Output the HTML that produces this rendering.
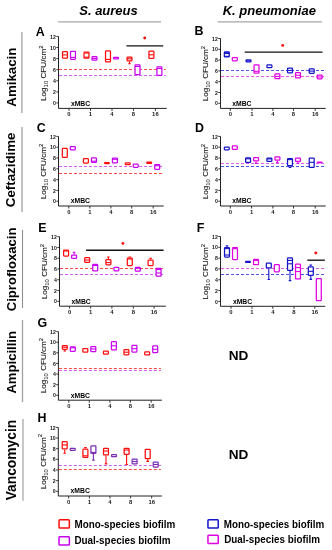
<!DOCTYPE html><html><head><meta charset="utf-8"><style>html,body{margin:0;padding:0;background:#fff;}svg{display:block;filter:blur(0.3px);}</style></head><body>
<svg width="332" height="550" viewBox="0 0 332 550" font-family='"Liberation Sans", sans-serif'>
<rect width="332" height="550" fill="#fff"/>
<text x="108.5" y="14.5" font-size="13" font-weight="bold" font-style="italic" text-anchor="middle" fill="#000">S. aureus</text>
<text x="269.3" y="14.6" font-size="13" font-weight="bold" font-style="italic" text-anchor="middle" fill="#000">K. pneumoniae</text>
<path d="M58 21.9H161M217.6 21.9H322" stroke="#a6a6a6" stroke-width="1.4"/>
<text transform="translate(15.5,77.15) rotate(-90)" font-size="13.3" font-weight="bold" text-anchor="middle" fill="#000">Amikacin</text>
<path d="M21.9 32V113" stroke="#a8a8a8" stroke-width="1.4"/>
<text transform="translate(15.1,169.9) rotate(-90)" font-size="13.3" font-weight="bold" text-anchor="middle" fill="#000">Ceftazidime</text>
<path d="M22.0 127V212" stroke="#a8a8a8" stroke-width="1.4"/>
<text transform="translate(16.3,269.4) rotate(-90)" font-size="13.1" font-weight="bold" text-anchor="middle" fill="#000">Ciprofloxacin</text>
<path d="M22.5 230V308" stroke="#8e8e8e" stroke-width="1.1"/>
<text transform="translate(16.3,362.3) rotate(-90)" font-size="13.1" font-weight="bold" text-anchor="middle" fill="#000">Ampicillin</text>
<path d="M22.5 320V402" stroke="#a0a0a0" stroke-width="1.3"/>
<text transform="translate(16.4,460.1) rotate(-90)" font-size="13.8" font-weight="bold" text-anchor="middle" fill="#000">Vancomycin</text>
<path d="M23.0 419V500.7" stroke="#b4b4b4" stroke-width="1.5"/>
<text x="35.7" y="35.9" font-size="12.4" font-weight="bold" fill="#000">A</text>
<path d="M58.5 36.4V108.4H166.7" fill="none" stroke="#222" stroke-width="1"/>
<text x="55.9" y="105.05" font-size="5.2" font-weight="bold" text-anchor="end" fill="#151515">0</text>
<text x="55.9" y="93.96" font-size="5.2" font-weight="bold" text-anchor="end" fill="#151515">2</text>
<text x="55.9" y="82.87" font-size="5.2" font-weight="bold" text-anchor="end" fill="#151515">4</text>
<text x="55.9" y="71.77" font-size="5.2" font-weight="bold" text-anchor="end" fill="#151515">6</text>
<text x="55.9" y="60.68" font-size="5.2" font-weight="bold" text-anchor="end" fill="#151515">8</text>
<text x="55.9" y="49.59" font-size="5.2" font-weight="bold" text-anchor="end" fill="#151515">10</text>
<text x="55.9" y="38.5" font-size="5.2" font-weight="bold" text-anchor="end" fill="#151515">12</text>
<path d="M56.3 102.95H58.5M56.3 91.86H58.5M56.3 80.77H58.5M56.3 69.67H58.5M56.3 58.58H58.5M56.3 47.49H58.5M56.3 36.4H58.5M69 108.4V110.9M90.5 108.4V110.9M112 108.4V110.9M133.5 108.4V110.9M155.4 108.4V110.9" stroke="#222" stroke-width="0.9"/>
<text x="69" y="116" font-size="5.9" font-weight="bold" text-anchor="middle" fill="#222">0</text>
<text x="90.5" y="116" font-size="5.9" font-weight="bold" text-anchor="middle" fill="#222">1</text>
<text x="112" y="116" font-size="5.9" font-weight="bold" text-anchor="middle" fill="#222">4</text>
<text x="133.5" y="116" font-size="5.9" font-weight="bold" text-anchor="middle" fill="#222">8</text>
<text x="155.4" y="116" font-size="5.9" font-weight="bold" text-anchor="middle" fill="#222">16</text>
<text x="70.9" y="105.8" font-size="6.8" font-weight="bold" fill="#000">xMBC</text>
<text transform="translate(46.3,100.95) rotate(-90)" font-size="8.1" fill="#1a1a1a" stroke="#1a1a1a" stroke-width="0.12">Log<tspan font-size="6" dy="1.5" stroke-width="0">10</tspan><tspan dy="-1.5"> CFU/cm</tspan><tspan font-size="5.8" dy="-3.7">2</tspan></text>
<path d="M59 69.5H165.7" stroke="#ff4040" stroke-width="0.95" stroke-dasharray="3 2"/>
<path d="M59 75.5H165.7" stroke="#c840f0" stroke-width="0.85" stroke-dasharray="3 2"/>
<rect x="62.52" y="51.73" width="4.95" height="6.35" rx="0.7" fill="#fff" stroke="#ff0d0d" stroke-width="1.25"/>
<path d="M62.52 54.9H67.47" stroke="#ff0d0d" stroke-width="1.1"/>
<rect x="70.53" y="51.33" width="4.95" height="7.95" rx="0.7" fill="#fff" stroke="#c800f0" stroke-width="1.25"/>
<path d="M70.53 57.4H75.48" stroke="#c800f0" stroke-width="1.1"/>
<rect x="84.03" y="52.23" width="4.95" height="5.85" rx="0.7" fill="#fff" stroke="#ff0d0d" stroke-width="1.25"/>
<path d="M84.03 53H88.98" stroke="#ff0d0d" stroke-width="1.1"/>
<path d="M84.03 57.2H88.98" stroke="#ff0d0d" stroke-width="1.1"/>
<rect x="92.03" y="56.73" width="4.95" height="3.45" rx="0.7" fill="#fff" stroke="#c800f0" stroke-width="1.25"/>
<path d="M92.03 58.4H96.98" stroke="#c800f0" stroke-width="1.1"/>
<rect x="105.53" y="50.92" width="4.95" height="10.95" rx="0.7" fill="#fff" stroke="#ff0d0d" stroke-width="1.25"/>
<path d="M105.53 59.4H110.48" stroke="#ff0d0d" stroke-width="1.1"/>
<rect x="113.53" y="57.42" width="4.95" height="1.45" rx="0.7" fill="#fff" stroke="#c800f0" stroke-width="1.25"/>
<path d="M129.5 61.6V63.7M128.2 63.7H130.8" stroke="#ff0d0d" stroke-width="1.1"/>
<rect x="127.03" y="57.02" width="4.95" height="3.95" rx="0.7" fill="#fff" stroke="#ff0d0d" stroke-width="1.25"/>
<path d="M127.03 58.8H131.97" stroke="#ff0d0d" stroke-width="1.1"/>
<rect x="135.03" y="64.83" width="4.95" height="9.85" rx="0.7" fill="#fff" stroke="#c800f0" stroke-width="1.25"/>
<path d="M135.03 66.5H139.97" stroke="#c800f0" stroke-width="1.1"/>
<rect x="148.93" y="51.12" width="4.95" height="7.35" rx="0.7" fill="#fff" stroke="#ff0d0d" stroke-width="1.25"/>
<path d="M148.93 54.8H153.88" stroke="#ff0d0d" stroke-width="1.1"/>
<rect x="156.93" y="66.92" width="4.95" height="8.45" rx="0.7" fill="#fff" stroke="#c800f0" stroke-width="1.25"/>
<path d="M156.93 68.5H161.88" stroke="#c800f0" stroke-width="1.1"/>
<path d="M126.4 45.8H163.2" stroke="#111" stroke-width="1.35"/>
<circle cx="144.7" cy="38" r="1.45" fill="#ff1010"/>
<text x="194.5" y="35.1" font-size="12.4" font-weight="bold" fill="#000">B</text>
<path d="M220.5 38.5V108.4H325.7" fill="none" stroke="#222" stroke-width="1"/>
<text x="217.9" y="105.4" font-size="5.2" font-weight="bold" text-anchor="end" fill="#151515">0</text>
<text x="217.9" y="94.6" font-size="5.2" font-weight="bold" text-anchor="end" fill="#151515">2</text>
<text x="217.9" y="83.8" font-size="5.2" font-weight="bold" text-anchor="end" fill="#151515">4</text>
<text x="217.9" y="73" font-size="5.2" font-weight="bold" text-anchor="end" fill="#151515">6</text>
<text x="217.9" y="62.2" font-size="5.2" font-weight="bold" text-anchor="end" fill="#151515">8</text>
<text x="217.9" y="51.4" font-size="5.2" font-weight="bold" text-anchor="end" fill="#151515">10</text>
<text x="217.9" y="40.6" font-size="5.2" font-weight="bold" text-anchor="end" fill="#151515">12</text>
<path d="M218.3 103.3H220.5M218.3 92.5H220.5M218.3 81.7H220.5M218.3 70.9H220.5M218.3 60.1H220.5M218.3 49.3H220.5M218.3 38.5H220.5M230.3 108.4V110.9M252 108.4V110.9M272.9 108.4V110.9M293.5 108.4V110.9M315.2 108.4V110.9" stroke="#222" stroke-width="0.9"/>
<text x="230.3" y="116" font-size="5.9" font-weight="bold" text-anchor="middle" fill="#222">0</text>
<text x="252" y="116" font-size="5.9" font-weight="bold" text-anchor="middle" fill="#222">1</text>
<text x="272.9" y="116" font-size="5.9" font-weight="bold" text-anchor="middle" fill="#222">4</text>
<text x="293.5" y="116" font-size="5.9" font-weight="bold" text-anchor="middle" fill="#222">8</text>
<text x="315.2" y="116" font-size="5.9" font-weight="bold" text-anchor="middle" fill="#222">16</text>
<text x="232.2" y="105.8" font-size="6.8" font-weight="bold" fill="#000">xMBC</text>
<text transform="translate(208.3,101.3) rotate(-90)" font-size="8.1" fill="#1a1a1a" stroke="#1a1a1a" stroke-width="0.12">Log<tspan font-size="6" dy="1.5" stroke-width="0">10</tspan><tspan dy="-1.5"> CFU/cm</tspan><tspan font-size="5.8" dy="-3.7">2</tspan></text>
<path d="M221 70.5H324.7" stroke="#4848e0" stroke-width="0.95" stroke-dasharray="3 2"/>
<path d="M221 76.5H324.7" stroke="#dd40e0" stroke-width="0.85" stroke-dasharray="3 2"/>
<rect x="224.33" y="51.83" width="4.95" height="5.15" rx="0.7" fill="#fff" stroke="#1414c8" stroke-width="1.25"/>
<path d="M224.33 52.7H229.28" stroke="#1414c8" stroke-width="1.1"/>
<path d="M224.33 53.5H229.28" stroke="#1414c8" stroke-width="1.1"/>
<path d="M224.33 56.3H229.28" stroke="#1414c8" stroke-width="1.1"/>
<rect x="232.33" y="57.52" width="4.95" height="3.25" rx="0.7" fill="#fff" stroke="#e000e0" stroke-width="1.25"/>
<rect x="246.03" y="59.83" width="4.95" height="2.15" rx="0.7" fill="#fff" stroke="#1414c8" stroke-width="1.25"/>
<path d="M246.03 60.9H250.97" stroke="#1414c8" stroke-width="1.1"/>
<rect x="254.03" y="64.92" width="4.95" height="8.25" rx="0.7" fill="#fff" stroke="#e000e0" stroke-width="1.25"/>
<path d="M254.03 71.3H258.98" stroke="#e000e0" stroke-width="1.1"/>
<rect x="266.92" y="64.92" width="4.95" height="2.75" rx="0.7" fill="#fff" stroke="#1414c8" stroke-width="1.25"/>
<rect x="274.92" y="73.83" width="4.95" height="4.75" rx="0.7" fill="#fff" stroke="#e000e0" stroke-width="1.25"/>
<path d="M274.92 76.4H279.87" stroke="#e000e0" stroke-width="1.1"/>
<rect x="287.52" y="68.12" width="4.95" height="4.65" rx="0.7" fill="#fff" stroke="#1414c8" stroke-width="1.25"/>
<path d="M287.52 70.4H292.47" stroke="#1414c8" stroke-width="1.1"/>
<rect x="295.52" y="72.62" width="4.95" height="5.35" rx="0.7" fill="#fff" stroke="#e000e0" stroke-width="1.25"/>
<path d="M295.52 75.3H300.47" stroke="#e000e0" stroke-width="1.1"/>
<rect x="309.22" y="68.92" width="4.95" height="4.35" rx="0.7" fill="#fff" stroke="#1414c8" stroke-width="1.25"/>
<path d="M309.22 71.1H314.17" stroke="#1414c8" stroke-width="1.1"/>
<rect x="317.22" y="75.22" width="4.95" height="3.55" rx="0.7" fill="#fff" stroke="#e000e0" stroke-width="1.25"/>
<path d="M317.22 77H322.17" stroke="#e000e0" stroke-width="1.1"/>
<path d="M244.7 52.1H322.5" stroke="#111" stroke-width="1.35"/>
<circle cx="282.7" cy="45.4" r="1.45" fill="#ff1010"/>
<text x="36.7" y="132.3" font-size="12.4" font-weight="bold" fill="#000">C</text>
<path d="M58.5 136.4V206H163.7" fill="none" stroke="#222" stroke-width="1"/>
<text x="55.9" y="203.3" font-size="5.2" font-weight="bold" text-anchor="end" fill="#151515">0</text>
<text x="55.9" y="192.5" font-size="5.2" font-weight="bold" text-anchor="end" fill="#151515">2</text>
<text x="55.9" y="181.7" font-size="5.2" font-weight="bold" text-anchor="end" fill="#151515">4</text>
<text x="55.9" y="170.9" font-size="5.2" font-weight="bold" text-anchor="end" fill="#151515">6</text>
<text x="55.9" y="160.1" font-size="5.2" font-weight="bold" text-anchor="end" fill="#151515">8</text>
<text x="55.9" y="149.3" font-size="5.2" font-weight="bold" text-anchor="end" fill="#151515">10</text>
<text x="55.9" y="138.5" font-size="5.2" font-weight="bold" text-anchor="end" fill="#151515">12</text>
<path d="M56.3 201.2H58.5M56.3 190.4H58.5M56.3 179.6H58.5M56.3 168.8H58.5M56.3 158H58.5M56.3 147.2H58.5M56.3 136.4H58.5M68.8 206V208.5M89.9 206V208.5M110.9 206V208.5M131.7 206V208.5M153.2 206V208.5" stroke="#222" stroke-width="0.9"/>
<text x="68.8" y="213.6" font-size="5.9" font-weight="bold" text-anchor="middle" fill="#222">0</text>
<text x="89.9" y="213.6" font-size="5.9" font-weight="bold" text-anchor="middle" fill="#222">1</text>
<text x="110.9" y="213.6" font-size="5.9" font-weight="bold" text-anchor="middle" fill="#222">4</text>
<text x="131.7" y="213.6" font-size="5.9" font-weight="bold" text-anchor="middle" fill="#222">8</text>
<text x="153.2" y="213.6" font-size="5.9" font-weight="bold" text-anchor="middle" fill="#222">16</text>
<text x="70.7" y="203.4" font-size="6.8" font-weight="bold" fill="#000">xMBC</text>
<text transform="translate(46.3,199.2) rotate(-90)" font-size="8.1" fill="#1a1a1a" stroke="#1a1a1a" stroke-width="0.12">Log<tspan font-size="6" dy="1.5" stroke-width="0">10</tspan><tspan dy="-1.5"> CFU/cm</tspan><tspan font-size="5.8" dy="-3.7">2</tspan></text>
<path d="M59 166.5H162.7" stroke="#c840f0" stroke-width="0.85" stroke-dasharray="3 2"/>
<path d="M59 173.5H162.7" stroke="#ff4040" stroke-width="0.95" stroke-dasharray="3 2"/>
<rect x="62.32" y="148.43" width="4.95" height="9.05" rx="0.7" fill="#fff" stroke="#ff0d0d" stroke-width="1.25"/>
<rect x="70.33" y="146.62" width="4.95" height="3.25" rx="0.7" fill="#fff" stroke="#c800f0" stroke-width="1.25"/>
<rect x="83.43" y="158.62" width="4.95" height="4.45" rx="0.7" fill="#fff" stroke="#ff0d0d" stroke-width="1.25"/>
<rect x="91.43" y="157.93" width="4.95" height="4.45" rx="0.7" fill="#fff" stroke="#c800f0" stroke-width="1.25"/>
<path d="M91.43 161.2H96.38" stroke="#c800f0" stroke-width="1.1"/>
<rect x="104.43" y="162.62" width="4.95" height="0.95" rx="0.7" fill="#fff" stroke="#ff0d0d" stroke-width="1.25"/>
<rect x="112.43" y="158.03" width="4.95" height="4.85" rx="0.7" fill="#fff" stroke="#c800f0" stroke-width="1.25"/>
<path d="M112.43 159.3H117.38" stroke="#c800f0" stroke-width="1.1"/>
<rect x="125.22" y="162.93" width="4.95" height="1.75" rx="0.7" fill="#fff" stroke="#ff0d0d" stroke-width="1.25"/>
<rect x="133.22" y="164.12" width="4.95" height="3.15" rx="0.7" fill="#fff" stroke="#c800f0" stroke-width="1.25"/>
<rect x="146.72" y="162.12" width="4.95" height="1.15" rx="0.7" fill="#fff" stroke="#ff0d0d" stroke-width="1.25"/>
<rect x="154.72" y="164.53" width="4.95" height="4.75" rx="0.7" fill="#fff" stroke="#c800f0" stroke-width="1.25"/>
<path d="M154.72 165.7H159.67" stroke="#c800f0" stroke-width="1.1"/>
<text x="195" y="131.9" font-size="12.4" font-weight="bold" fill="#000">D</text>
<path d="M220.5 136.4V206H325.7" fill="none" stroke="#222" stroke-width="1"/>
<text x="217.9" y="203.35" font-size="5.2" font-weight="bold" text-anchor="end" fill="#151515">0</text>
<text x="217.9" y="192.54" font-size="5.2" font-weight="bold" text-anchor="end" fill="#151515">2</text>
<text x="217.9" y="181.73" font-size="5.2" font-weight="bold" text-anchor="end" fill="#151515">4</text>
<text x="217.9" y="170.92" font-size="5.2" font-weight="bold" text-anchor="end" fill="#151515">6</text>
<text x="217.9" y="160.12" font-size="5.2" font-weight="bold" text-anchor="end" fill="#151515">8</text>
<text x="217.9" y="149.31" font-size="5.2" font-weight="bold" text-anchor="end" fill="#151515">10</text>
<text x="217.9" y="138.5" font-size="5.2" font-weight="bold" text-anchor="end" fill="#151515">12</text>
<path d="M218.3 201.25H220.5M218.3 190.44H220.5M218.3 179.63H220.5M218.3 168.82H220.5M218.3 158.02H220.5M218.3 147.21H220.5M218.3 136.4H220.5M230.3 206V208.5M251.6 206V208.5M272.9 206V208.5M293.5 206V208.5M315.2 206V208.5" stroke="#222" stroke-width="0.9"/>
<text x="230.3" y="213.6" font-size="5.9" font-weight="bold" text-anchor="middle" fill="#222">0</text>
<text x="251.6" y="213.6" font-size="5.9" font-weight="bold" text-anchor="middle" fill="#222">1</text>
<text x="272.9" y="213.6" font-size="5.9" font-weight="bold" text-anchor="middle" fill="#222">4</text>
<text x="293.5" y="213.6" font-size="5.9" font-weight="bold" text-anchor="middle" fill="#222">8</text>
<text x="315.2" y="213.6" font-size="5.9" font-weight="bold" text-anchor="middle" fill="#222">16</text>
<text x="232.2" y="203.4" font-size="6.8" font-weight="bold" fill="#000">xMBC</text>
<text transform="translate(208.3,199.25) rotate(-90)" font-size="8.1" fill="#1a1a1a" stroke="#1a1a1a" stroke-width="0.12">Log<tspan font-size="6" dy="1.5" stroke-width="0">10</tspan><tspan dy="-1.5"> CFU/cm</tspan><tspan font-size="5.8" dy="-3.7">2</tspan></text>
<path d="M221 163.5H324.7" stroke="#dd40e0" stroke-width="0.85" stroke-dasharray="3 2"/>
<path d="M221 166.5H324.7" stroke="#4848e0" stroke-width="0.95" stroke-dasharray="3 2"/>
<rect x="224.33" y="147.22" width="4.95" height="2.55" rx="0.7" fill="#fff" stroke="#1414c8" stroke-width="1.25"/>
<rect x="232.33" y="145.93" width="4.95" height="3.55" rx="0.7" fill="#fff" stroke="#e000e0" stroke-width="1.25"/>
<rect x="245.62" y="157.93" width="4.95" height="4.45" rx="0.7" fill="#fff" stroke="#1414c8" stroke-width="1.25"/>
<path d="M245.62 158.8H250.57" stroke="#1414c8" stroke-width="1.1"/>
<path d="M256.1 161.5V163.4M254.8 163.4H257.4" stroke="#e000e0" stroke-width="1.1"/>
<rect x="253.63" y="157.72" width="4.95" height="3.15" rx="0.7" fill="#fff" stroke="#e000e0" stroke-width="1.25"/>
<rect x="266.92" y="158.12" width="4.95" height="3.25" rx="0.7" fill="#fff" stroke="#1414c8" stroke-width="1.25"/>
<path d="M266.92 158.9H271.87" stroke="#1414c8" stroke-width="1.1"/>
<path d="M277.4 160.8V162.5M276.1 162.5H278.7" stroke="#e000e0" stroke-width="1.1"/>
<rect x="274.92" y="156.82" width="4.95" height="3.35" rx="0.7" fill="#fff" stroke="#e000e0" stroke-width="1.25"/>
<path d="M290 166.2V167.4M288.7 167.4H291.3" stroke="#1414c8" stroke-width="1.1"/>
<rect x="287.52" y="158.72" width="4.95" height="6.85" rx="0.7" fill="#fff" stroke="#1414c8" stroke-width="1.25"/>
<path d="M287.52 159.6H292.47" stroke="#1414c8" stroke-width="1.1"/>
<path d="M298 162V163.2M296.7 163.2H299.3" stroke="#e000e0" stroke-width="1.1"/>
<rect x="295.52" y="158.12" width="4.95" height="3.25" rx="0.7" fill="#fff" stroke="#e000e0" stroke-width="1.25"/>
<rect x="309.22" y="158.12" width="4.95" height="9.35" rx="0.7" fill="#fff" stroke="#1414c8" stroke-width="1.25"/>
<path d="M309.22 162.3H314.17" stroke="#1414c8" stroke-width="1.1"/>
<rect x="317.22" y="162.22" width="4.95" height="0.3" rx="0.7" fill="#fff" stroke="#e000e0" stroke-width="1.25"/>
<text x="38.2" y="231.9" font-size="12.4" font-weight="bold" fill="#000">E</text>
<path d="M59.5 236.7V306.2H165.8" fill="none" stroke="#222" stroke-width="1"/>
<text x="56.9" y="303.4" font-size="5.2" font-weight="bold" text-anchor="end" fill="#151515">0</text>
<text x="56.9" y="292.63" font-size="5.2" font-weight="bold" text-anchor="end" fill="#151515">2</text>
<text x="56.9" y="281.87" font-size="5.2" font-weight="bold" text-anchor="end" fill="#151515">4</text>
<text x="56.9" y="271.1" font-size="5.2" font-weight="bold" text-anchor="end" fill="#151515">6</text>
<text x="56.9" y="260.33" font-size="5.2" font-weight="bold" text-anchor="end" fill="#151515">8</text>
<text x="56.9" y="249.57" font-size="5.2" font-weight="bold" text-anchor="end" fill="#151515">10</text>
<text x="56.9" y="238.8" font-size="5.2" font-weight="bold" text-anchor="end" fill="#151515">12</text>
<path d="M57.3 301.3H59.5M57.3 290.53H59.5M57.3 279.77H59.5M57.3 269H59.5M57.3 258.23H59.5M57.3 247.47H59.5M57.3 236.7H59.5M69.6 306.2V308.7M90.7 306.2V308.7M111.9 306.2V308.7M133.3 306.2V308.7M154.1 306.2V308.7" stroke="#222" stroke-width="0.9"/>
<text x="69.6" y="313.8" font-size="5.9" font-weight="bold" text-anchor="middle" fill="#222">0</text>
<text x="90.7" y="313.8" font-size="5.9" font-weight="bold" text-anchor="middle" fill="#222">1</text>
<text x="111.9" y="313.8" font-size="5.9" font-weight="bold" text-anchor="middle" fill="#222">4</text>
<text x="133.3" y="313.8" font-size="5.9" font-weight="bold" text-anchor="middle" fill="#222">8</text>
<text x="154.1" y="313.8" font-size="5.9" font-weight="bold" text-anchor="middle" fill="#222">16</text>
<text x="71.5" y="303.6" font-size="6.8" font-weight="bold" fill="#000">xMBC</text>
<text transform="translate(47.3,299.3) rotate(-90)" font-size="8.1" fill="#1a1a1a" stroke="#1a1a1a" stroke-width="0.12">Log<tspan font-size="6" dy="1.5" stroke-width="0">10</tspan><tspan dy="-1.5"> CFU/cm</tspan><tspan font-size="5.8" dy="-3.7">2</tspan></text>
<path d="M60 268.5H164.8" stroke="#ff4040" stroke-width="0.95" stroke-dasharray="3 2"/>
<path d="M60 274.5H164.8" stroke="#c840f0" stroke-width="0.85" stroke-dasharray="3 2"/>
<rect x="63.62" y="250.12" width="4.95" height="5.95" rx="0.7" fill="#fff" stroke="#ff0d0d" stroke-width="1.25"/>
<path d="M63.62 251H68.57" stroke="#ff0d0d" stroke-width="1.1"/>
<path d="M74.1 252.3V254.6M72.8 252.3H75.4" stroke="#c800f0" stroke-width="1.1"/>
<rect x="71.62" y="255.22" width="4.95" height="3.15" rx="0.7" fill="#fff" stroke="#c800f0" stroke-width="1.25"/>
<rect x="84.73" y="257.73" width="4.95" height="4.65" rx="0.7" fill="#fff" stroke="#ff0d0d" stroke-width="1.25"/>
<path d="M84.73 260.1H89.68" stroke="#ff0d0d" stroke-width="1.1"/>
<rect x="92.73" y="264.43" width="4.95" height="6.55" rx="0.7" fill="#fff" stroke="#c800f0" stroke-width="1.25"/>
<path d="M92.73 265.5H97.68" stroke="#c800f0" stroke-width="1.1"/>
<path d="M108.4 257V258.9M107.1 257H109.7" stroke="#ff0d0d" stroke-width="1.1"/>
<rect x="105.93" y="259.52" width="4.95" height="5.25" rx="0.7" fill="#fff" stroke="#ff0d0d" stroke-width="1.25"/>
<path d="M105.93 262.6H110.88" stroke="#ff0d0d" stroke-width="1.1"/>
<rect x="113.93" y="267.43" width="4.95" height="3.35" rx="0.7" fill="#fff" stroke="#c800f0" stroke-width="1.25"/>
<path d="M129.8 257V257.5M128.5 257H131.1" stroke="#ff0d0d" stroke-width="1.1"/>
<rect x="127.33" y="258.12" width="4.95" height="7.45" rx="0.7" fill="#fff" stroke="#ff0d0d" stroke-width="1.25"/>
<path d="M127.33 259H132.28" stroke="#ff0d0d" stroke-width="1.1"/>
<rect x="135.33" y="267.43" width="4.95" height="3.75" rx="0.7" fill="#fff" stroke="#c800f0" stroke-width="1.25"/>
<path d="M135.33 268.3H140.28" stroke="#c800f0" stroke-width="1.1"/>
<path d="M150.6 258.2V259.5M149.3 258.2H151.9" stroke="#ff0d0d" stroke-width="1.1"/>
<rect x="148.12" y="260.12" width="4.95" height="5.45" rx="0.7" fill="#fff" stroke="#ff0d0d" stroke-width="1.25"/>
<rect x="156.12" y="268.43" width="4.95" height="7.75" rx="0.7" fill="#fff" stroke="#c800f0" stroke-width="1.25"/>
<path d="M156.12 269.5H161.07" stroke="#c800f0" stroke-width="1.1"/>
<path d="M156.12 273H161.07" stroke="#c800f0" stroke-width="1.1"/>
<path d="M86.1 250.2H163.6" stroke="#111" stroke-width="1.35"/>
<circle cx="122.9" cy="243.4" r="1.45" fill="#ff1010"/>
<text x="196.7" y="231.9" font-size="12.4" font-weight="bold" fill="#000">F</text>
<path d="M220.5 236.5V306.3H325.3" fill="none" stroke="#222" stroke-width="1"/>
<text x="217.9" y="303.5" font-size="5.2" font-weight="bold" text-anchor="end" fill="#151515">0</text>
<text x="217.9" y="292.68" font-size="5.2" font-weight="bold" text-anchor="end" fill="#151515">2</text>
<text x="217.9" y="281.87" font-size="5.2" font-weight="bold" text-anchor="end" fill="#151515">4</text>
<text x="217.9" y="271.05" font-size="5.2" font-weight="bold" text-anchor="end" fill="#151515">6</text>
<text x="217.9" y="260.23" font-size="5.2" font-weight="bold" text-anchor="end" fill="#151515">8</text>
<text x="217.9" y="249.42" font-size="5.2" font-weight="bold" text-anchor="end" fill="#151515">10</text>
<text x="217.9" y="238.6" font-size="5.2" font-weight="bold" text-anchor="end" fill="#151515">12</text>
<path d="M218.3 301.4H220.5M218.3 290.58H220.5M218.3 279.77H220.5M218.3 268.95H220.5M218.3 258.13H220.5M218.3 247.32H220.5M218.3 236.5H220.5M231 306.3V308.8M252 306.3V308.8M272.8 306.3V308.8M294 306.3V308.8M314.8 306.3V308.8" stroke="#222" stroke-width="0.9"/>
<text x="231" y="313.9" font-size="5.9" font-weight="bold" text-anchor="middle" fill="#222">0</text>
<text x="252" y="313.9" font-size="5.9" font-weight="bold" text-anchor="middle" fill="#222">1</text>
<text x="272.8" y="313.9" font-size="5.9" font-weight="bold" text-anchor="middle" fill="#222">4</text>
<text x="294" y="313.9" font-size="5.9" font-weight="bold" text-anchor="middle" fill="#222">8</text>
<text x="314.8" y="313.9" font-size="5.9" font-weight="bold" text-anchor="middle" fill="#222">16</text>
<text x="232.9" y="303.7" font-size="6.8" font-weight="bold" fill="#000">xMBC</text>
<text transform="translate(208.3,299.4) rotate(-90)" font-size="8.1" fill="#1a1a1a" stroke="#1a1a1a" stroke-width="0.12">Log<tspan font-size="6" dy="1.5" stroke-width="0">10</tspan><tspan dy="-1.5"> CFU/cm</tspan><tspan font-size="5.8" dy="-3.7">2</tspan></text>
<path d="M221 268.5H324.3" stroke="#dd40e0" stroke-width="0.85" stroke-dasharray="3 2"/>
<path d="M221 274.5H324.3" stroke="#4848e0" stroke-width="0.95" stroke-dasharray="3 2"/>
<path d="M227 245.7V247M225.7 245.7H228.3" stroke="#1414c8" stroke-width="1.1"/>
<rect x="224.53" y="247.62" width="4.95" height="9.45" rx="0.7" fill="#fff" stroke="#1414c8" stroke-width="1.25"/>
<path d="M224.53 248.6H229.47" stroke="#1414c8" stroke-width="1.1"/>
<path d="M224.53 255H229.47" stroke="#1414c8" stroke-width="1.1"/>
<rect x="232.53" y="247.62" width="4.95" height="11.95" rx="0.7" fill="#fff" stroke="#e000e0" stroke-width="1.25"/>
<path d="M232.53 248.6H237.47" stroke="#e000e0" stroke-width="1.1"/>
<rect x="245.53" y="261.43" width="4.95" height="0.95" rx="0.7" fill="#fff" stroke="#1414c8" stroke-width="1.25"/>
<rect x="253.53" y="259.32" width="4.95" height="5.35" rx="0.7" fill="#fff" stroke="#e000e0" stroke-width="1.25"/>
<path d="M253.53 260.4H258.48" stroke="#e000e0" stroke-width="1.1"/>
<path d="M268.8 268.6V279.5M267.5 279.5H270.1" stroke="#1414c8" stroke-width="1.1"/>
<rect x="266.32" y="263.23" width="4.95" height="4.75" rx="0.7" fill="#fff" stroke="#1414c8" stroke-width="1.25"/>
<rect x="274.32" y="264.73" width="4.95" height="7.05" rx="0.7" fill="#fff" stroke="#e000e0" stroke-width="1.25"/>
<path d="M290 271.1V280.6M288.7 280.6H291.3" stroke="#1414c8" stroke-width="1.1"/>
<rect x="287.52" y="257.82" width="4.95" height="12.65" rx="0.7" fill="#fff" stroke="#1414c8" stroke-width="1.25"/>
<path d="M287.52 260.4H292.47" stroke="#1414c8" stroke-width="1.1"/>
<path d="M287.52 263.8H292.47" stroke="#1414c8" stroke-width="1.1"/>
<rect x="295.52" y="264.02" width="4.95" height="14.85" rx="0.7" fill="#fff" stroke="#e000e0" stroke-width="1.25"/>
<path d="M295.52 267.5H300.47" stroke="#e000e0" stroke-width="1.1"/>
<path d="M295.52 271.5H300.47" stroke="#e000e0" stroke-width="1.1"/>
<path d="M310.8 265V266.2M309.5 265H312.1" stroke="#1414c8" stroke-width="1.1"/>
<path d="M310.8 276V279.4M309.5 279.4H312.1" stroke="#1414c8" stroke-width="1.1"/>
<rect x="308.32" y="266.82" width="4.95" height="8.55" rx="0.7" fill="#fff" stroke="#1414c8" stroke-width="1.25"/>
<path d="M308.32 271.3H313.27" stroke="#1414c8" stroke-width="1.1"/>
<rect x="316.32" y="278.73" width="4.95" height="21.95" rx="0.7" fill="#fff" stroke="#e000e0" stroke-width="1.25"/>
<path d="M307.3 260.2H324.8" stroke="#111" stroke-width="1.35"/>
<circle cx="315.8" cy="253" r="1.45" fill="#ff1010"/>
<text x="37.5" y="326.7" font-size="12.4" font-weight="bold" fill="#000">G</text>
<path d="M58.4 331.6V400.2H161.9" fill="none" stroke="#222" stroke-width="1"/>
<text x="55.8" y="397.4" font-size="5.2" font-weight="bold" text-anchor="end" fill="#151515">0</text>
<text x="55.8" y="386.78" font-size="5.2" font-weight="bold" text-anchor="end" fill="#151515">2</text>
<text x="55.8" y="376.17" font-size="5.2" font-weight="bold" text-anchor="end" fill="#151515">4</text>
<text x="55.8" y="365.55" font-size="5.2" font-weight="bold" text-anchor="end" fill="#151515">6</text>
<text x="55.8" y="354.93" font-size="5.2" font-weight="bold" text-anchor="end" fill="#151515">8</text>
<text x="55.8" y="344.32" font-size="5.2" font-weight="bold" text-anchor="end" fill="#151515">10</text>
<text x="55.8" y="333.7" font-size="5.2" font-weight="bold" text-anchor="end" fill="#151515">12</text>
<path d="M56.2 395.3H58.4M56.2 384.68H58.4M56.2 374.07H58.4M56.2 363.45H58.4M56.2 352.83H58.4M56.2 342.22H58.4M56.2 331.6H58.4M68.8 400.2V402.7M89.3 400.2V402.7M109.9 400.2V402.7M130.4 400.2V402.7M151.2 400.2V402.7" stroke="#222" stroke-width="0.9"/>
<text x="68.8" y="407.8" font-size="5.9" font-weight="bold" text-anchor="middle" fill="#222">0</text>
<text x="89.3" y="407.8" font-size="5.9" font-weight="bold" text-anchor="middle" fill="#222">1</text>
<text x="109.9" y="407.8" font-size="5.9" font-weight="bold" text-anchor="middle" fill="#222">4</text>
<text x="130.4" y="407.8" font-size="5.9" font-weight="bold" text-anchor="middle" fill="#222">8</text>
<text x="151.2" y="407.8" font-size="5.9" font-weight="bold" text-anchor="middle" fill="#222">16</text>
<text x="70.7" y="397.6" font-size="6.8" font-weight="bold" fill="#000">xMBC</text>
<text transform="translate(46.2,393.3) rotate(-90)" font-size="8.1" fill="#1a1a1a" stroke="#1a1a1a" stroke-width="0.12">Log<tspan font-size="6" dy="1.5" stroke-width="0">10</tspan><tspan dy="-1.5"> CFU/cm</tspan><tspan font-size="5.8" dy="-3.7">2</tspan></text>
<path d="M58.9 368.5H160.9" stroke="#ff4040" stroke-width="0.95" stroke-dasharray="3 2"/>
<path d="M58.9 370.5H160.9" stroke="#c840f0" stroke-width="0.85" stroke-dasharray="3 2"/>
<path d="M64.8 349.9V351M63.5 351H66.1" stroke="#ff0d0d" stroke-width="1.1"/>
<rect x="62.32" y="345.52" width="4.95" height="3.75" rx="0.7" fill="#fff" stroke="#ff0d0d" stroke-width="1.25"/>
<path d="M62.32 347.2H67.27" stroke="#ff0d0d" stroke-width="1.1"/>
<rect x="70.33" y="346.82" width="4.95" height="4.45" rx="0.7" fill="#fff" stroke="#c800f0" stroke-width="1.25"/>
<path d="M70.33 347.8H75.28" stroke="#c800f0" stroke-width="1.1"/>
<rect x="82.83" y="348.52" width="4.95" height="3.65" rx="0.7" fill="#fff" stroke="#ff0d0d" stroke-width="1.25"/>
<rect x="90.83" y="346.62" width="4.95" height="5.05" rx="0.7" fill="#fff" stroke="#c800f0" stroke-width="1.25"/>
<path d="M90.83 349H95.78" stroke="#c800f0" stroke-width="1.1"/>
<rect x="103.43" y="351.23" width="4.95" height="2.95" rx="0.7" fill="#fff" stroke="#ff0d0d" stroke-width="1.25"/>
<rect x="111.43" y="341.73" width="4.95" height="8.25" rx="0.7" fill="#fff" stroke="#c800f0" stroke-width="1.25"/>
<path d="M111.43 345.8H116.38" stroke="#c800f0" stroke-width="1.1"/>
<rect x="123.93" y="349.73" width="4.95" height="5.05" rx="0.7" fill="#fff" stroke="#ff0d0d" stroke-width="1.25"/>
<path d="M123.93 352.2H128.88" stroke="#ff0d0d" stroke-width="1.1"/>
<rect x="131.93" y="345.32" width="4.95" height="6.75" rx="0.7" fill="#fff" stroke="#c800f0" stroke-width="1.25"/>
<path d="M131.93 348.7H136.88" stroke="#c800f0" stroke-width="1.1"/>
<rect x="144.72" y="351.93" width="4.95" height="2.95" rx="0.7" fill="#fff" stroke="#ff0d0d" stroke-width="1.25"/>
<rect x="152.72" y="345.93" width="4.95" height="6.75" rx="0.7" fill="#fff" stroke="#c800f0" stroke-width="1.25"/>
<path d="M152.72 349.3H157.67" stroke="#c800f0" stroke-width="1.1"/>
<text x="37.6" y="422.1" font-size="12.4" font-weight="bold" fill="#000">H</text>
<path d="M58.3 427.4V496H161.9" fill="none" stroke="#222" stroke-width="1"/>
<text x="55.7" y="493.4" font-size="5.2" font-weight="bold" text-anchor="end" fill="#151515">0</text>
<text x="55.7" y="482.75" font-size="5.2" font-weight="bold" text-anchor="end" fill="#151515">2</text>
<text x="55.7" y="472.1" font-size="5.2" font-weight="bold" text-anchor="end" fill="#151515">4</text>
<text x="55.7" y="461.45" font-size="5.2" font-weight="bold" text-anchor="end" fill="#151515">6</text>
<text x="55.7" y="450.8" font-size="5.2" font-weight="bold" text-anchor="end" fill="#151515">8</text>
<text x="55.7" y="440.15" font-size="5.2" font-weight="bold" text-anchor="end" fill="#151515">10</text>
<text x="55.7" y="429.5" font-size="5.2" font-weight="bold" text-anchor="end" fill="#151515">12</text>
<path d="M56.1 491.3H58.3M56.1 480.65H58.3M56.1 470H58.3M56.1 459.35H58.3M56.1 448.7H58.3M56.1 438.05H58.3M56.1 427.4H58.3M68.7 496V498.5M89.4 496V498.5M110 496V498.5M130.6 496V498.5M151.7 496V498.5" stroke="#222" stroke-width="0.9"/>
<text x="68.7" y="503.6" font-size="5.9" font-weight="bold" text-anchor="middle" fill="#222">0</text>
<text x="89.4" y="503.6" font-size="5.9" font-weight="bold" text-anchor="middle" fill="#222">1</text>
<text x="110" y="503.6" font-size="5.9" font-weight="bold" text-anchor="middle" fill="#222">4</text>
<text x="130.6" y="503.6" font-size="5.9" font-weight="bold" text-anchor="middle" fill="#222">8</text>
<text x="151.7" y="503.6" font-size="5.9" font-weight="bold" text-anchor="middle" fill="#222">16</text>
<text x="70.6" y="493.4" font-size="6.8" font-weight="bold" fill="#000">xMBC</text>
<text transform="translate(46.1,489.3) rotate(-90)" font-size="8.1" fill="#1a1a1a" stroke="#1a1a1a" stroke-width="0.12">Log<tspan font-size="6" dy="1.5" stroke-width="0">10</tspan><tspan dy="-1.5"> CFU/cm</tspan><tspan font-size="5.8" dy="-3.7">2</tspan></text>
<path d="M58.8 465.5H160.9" stroke="#b848f0" stroke-width="0.85" stroke-dasharray="3 2"/>
<path d="M58.8 469.5H160.9" stroke="#ff4040" stroke-width="0.95" stroke-dasharray="3 2"/>
<path d="M64.7 449.6V453.3M63.4 453.3H66" stroke="#ff0d0d" stroke-width="1.1"/>
<rect x="62.23" y="441.73" width="4.95" height="7.25" rx="0.7" fill="#fff" stroke="#ff0d0d" stroke-width="1.25"/>
<path d="M62.23 445H67.17" stroke="#ff0d0d" stroke-width="1.1"/>
<rect x="70.23" y="448.32" width="4.95" height="2.05" rx="0.7" fill="#fff" stroke="#7a2db4" stroke-width="1.25"/>
<path d="M85.4 447.5V448.6M84.1 447.5H86.7" stroke="#ff0d0d" stroke-width="1.1"/>
<rect x="82.93" y="449.23" width="4.95" height="8.15" rx="0.7" fill="#fff" stroke="#ff0d0d" stroke-width="1.25"/>
<path d="M82.93 455.8H87.88" stroke="#ff0d0d" stroke-width="1.1"/>
<path d="M93.4 454V460.1M92.1 460.1H94.7" stroke="#7a2db4" stroke-width="1.1"/>
<rect x="90.93" y="445.82" width="4.95" height="7.55" rx="0.7" fill="#fff" stroke="#7a2db4" stroke-width="1.25"/>
<path d="M90.93 452.4H95.88" stroke="#7a2db4" stroke-width="1.1"/>
<path d="M106 455.5V463.9M104.7 463.9H107.3" stroke="#ff0d0d" stroke-width="1.1"/>
<rect x="103.53" y="448.32" width="4.95" height="6.55" rx="0.7" fill="#fff" stroke="#ff0d0d" stroke-width="1.25"/>
<path d="M103.53 451H108.48" stroke="#ff0d0d" stroke-width="1.1"/>
<rect x="111.53" y="454.52" width="4.95" height="2.15" rx="0.7" fill="#fff" stroke="#7a2db4" stroke-width="1.25"/>
<path d="M126.6 455.1V464.5M125.3 464.5H127.9" stroke="#ff0d0d" stroke-width="1.1"/>
<rect x="124.12" y="448.32" width="4.95" height="6.15" rx="0.7" fill="#fff" stroke="#ff0d0d" stroke-width="1.25"/>
<path d="M124.12 450H129.07" stroke="#ff0d0d" stroke-width="1.1"/>
<rect x="132.12" y="459.23" width="4.95" height="4.65" rx="0.7" fill="#fff" stroke="#7a2db4" stroke-width="1.25"/>
<path d="M132.12 461.5H137.07" stroke="#7a2db4" stroke-width="1.1"/>
<path d="M147.7 459.3V461.4M146.4 461.4H149" stroke="#ff0d0d" stroke-width="1.1"/>
<rect x="145.22" y="449.32" width="4.95" height="9.35" rx="0.7" fill="#fff" stroke="#ff0d0d" stroke-width="1.25"/>
<rect x="153.22" y="462.02" width="4.95" height="5.05" rx="0.7" fill="#fff" stroke="#7a2db4" stroke-width="1.25"/>
<path d="M153.22 464.5H158.17" stroke="#7a2db4" stroke-width="1.1"/>
<text x="228.8" y="360.4" font-size="13.6" font-weight="bold" fill="#000">ND</text>
<text x="228.8" y="459.2" font-size="13.6" font-weight="bold" fill="#000">ND</text>
<rect x="59.05" y="519.75" width="10.3" height="8.3" rx="0.8" fill="#fff" stroke="#ff0d0d" stroke-width="1.5"/>
<rect x="59.05" y="536.65" width="10.3" height="8.3" rx="0.8" fill="#fff" stroke="#c800f0" stroke-width="1.5"/>
<rect x="207.95" y="519.75" width="10.3" height="8.3" rx="0.8" fill="#fff" stroke="#1414c8" stroke-width="1.5"/>
<rect x="207.95" y="535.25" width="10.3" height="8.3" rx="0.8" fill="#fff" stroke="#e000e0" stroke-width="1.5"/>
<text x="74.6" y="527.6" font-size="10" font-weight="bold" fill="#000" textLength="100.6" lengthAdjust="spacingAndGlyphs">Mono-species biofilm</text>
<text x="74.4" y="544.4" font-size="10" font-weight="bold" fill="#000" textLength="96.2" lengthAdjust="spacingAndGlyphs">Dual-species biofilm</text>
<text x="223.8" y="527.6" font-size="10" font-weight="bold" fill="#000" textLength="100.4" lengthAdjust="spacingAndGlyphs">Mono-species biofilm</text>
<text x="224.2" y="543.0" font-size="10" font-weight="bold" fill="#000" textLength="95.8" lengthAdjust="spacingAndGlyphs">Dual-species biofilm</text>
</svg></body></html>
